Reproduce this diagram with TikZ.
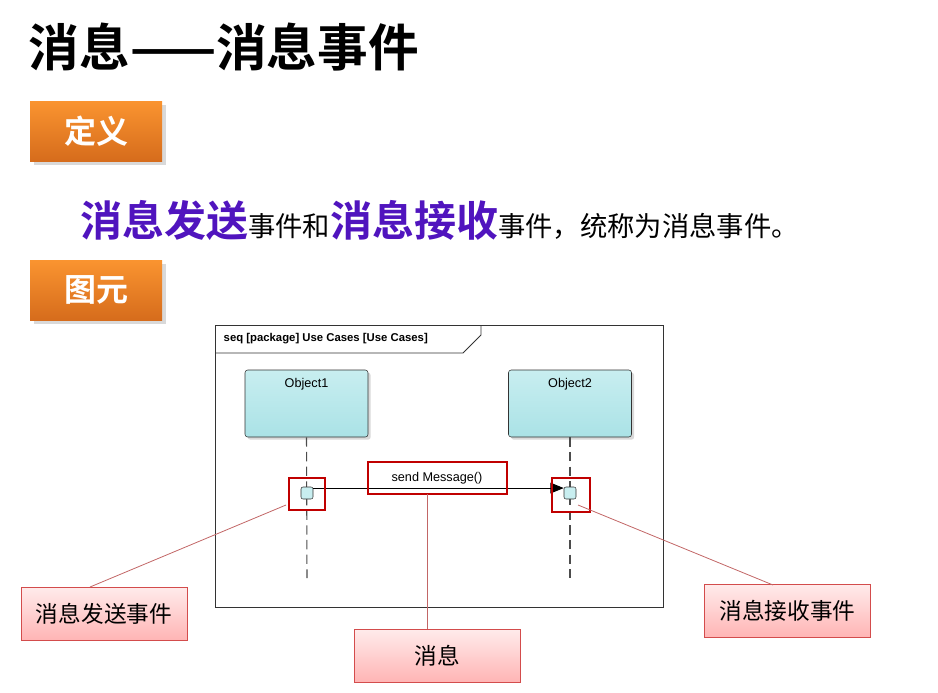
\documentclass[tikz,border=0pt]{standalone}
\usepackage{fontspec}
\setmainfont{Liberation Sans}
\newfontfamily\cjk{Noto Sans CJK SC}
\newfontfamily\cjkb{Noto Sans CJK SC Bold}
\usetikzlibrary{shadows,arrows.meta}
\definecolor{orgT}{RGB}{250,148,48}
\definecolor{orgB}{RGB}{214,108,28}
\definecolor{purp}{RGB}{80,20,190}
\definecolor{objT}{RGB}{200,238,240}
\definecolor{objB}{RGB}{170,226,230}
\definecolor{dred}{RGB}{192,0,0}
\definecolor{pinkT}{RGB}{255,235,235}
\definecolor{pinkB}{RGB}{255,180,180}
\tikzset{
 tagbox/.style={draw=none,top color=orgT,bottom color=orgB,minimum width=132*0.75pt,minimum height=60*0.75pt,text=white,font=\cjkb\fontsize{24}{24}\selectfont,drop shadow={opacity=0.3}},
 objbox/.style={draw=black!80,rounded corners=2pt,top color=objT,bottom color=objB,minimum width=123*0.75pt,minimum height=67*0.75pt,drop shadow={opacity=0.3,shadow xshift=2pt,shadow yshift=-2pt}},
 act/.style={draw=black!80,rounded corners=1.5pt,fill=objT,minimum size=12*0.75pt,inner sep=0},
 hl/.style={draw=dred,line width=2pt},
 callout/.style={draw=dred!70,top color=pinkT,bottom color=pinkB,minimum width=166*0.75pt,minimum height=53*0.75pt,font=\cjk\fontsize{17}{17}\selectfont},
 lead/.style={draw=red!60!black!60,line width=0.6pt},
 life/.style={draw=black!70,line width=0.8pt,dash pattern=on 7pt off 4pt}
}
\begin{document}
\begin{tikzpicture}[x=0.75pt,y=-0.75pt]
\useasboundingbox (0,0) rectangle (938,692);
\node[anchor=west,font=\cjkb\fontsize{38}{38}\selectfont] (title) at (24,47) {消息——消息事件};
\node[tagbox] (t1) at (96,131) {定义};
\node[tagbox] (t2) at (96,290) {图元};
\node[anchor=west,inner sep=0] (sent) at (80,220) {\textcolor{purp}{\cjkb\fontsize{31.5}{31.5}\selectfont 消息发送}{\cjk\fontsize{20.5}{20.5}\selectfont 事件和}\textcolor{purp}{\cjkb\fontsize{31.5}{31.5}\selectfont 消息接收}{\cjk\fontsize{20.5}{20.5}\selectfont 事件，统称为消息事件。}};
% frame
\draw[black!80,line width=0.7pt] (215,325) rectangle (663,607);
\draw[black!80,line width=0.7pt] (215,353) -- (463,353) -- (481,335) -- (481,325);
\node[anchor=west,font=\fontsize{8.5}{8.5}\selectfont\bfseries] (ftitle) at (219,339) {seq [package] Use Cases [Use Cases]};
\node[objbox] (o1) at (306.5,403.5) {};
\node[font=\fontsize{9.5}{9.5}\selectfont] at (306.5,384) {Object1};
\node[objbox] (o2) at (570,403.5) {};
\node[font=\fontsize{9.5}{9.5}\selectfont] at (570,384) {Object2};
\coordinate (e1) at (307,578);
\coordinate (e2) at (570,578);
\draw[life] (o1.south) -- (e1);
\draw[life] (o2.south) -- (e2);
\node[act] (a1) at (307,493) {};
\node[act] (a2) at (570,493) {};
\draw[black,line width=0.7pt,-{Triangle[length=10pt,width=8pt]}] ([yshift=-1pt]a1.north east) -- ([yshift=-1pt]a2.north west);
\node[font=\fontsize{9.5}{9.5}\selectfont] (msg) at (437,478) {send Message()};
\draw[hl] (289,478) rectangle (325,510);
\draw[hl] (368,462) rectangle (507,494);
\draw[hl] (552,478) rectangle (590,512);
\node[callout] (c1) at (104,614) {消息发送事件};
\node[callout] (c2) at (437.5,656) {消息};
\node[callout] (c3) at (787.5,611) {消息接收事件};
\coordinate (p1) at (286,505);
\coordinate (p2) at (427,494);
\coordinate (p3) at (578,505);
\draw[lead] (p1) -- (90,587);
\draw[lead] (p2) -- (c2.north -| p2);
\draw[lead] (p3) -- (773,585);
\end{tikzpicture}
\end{document}
